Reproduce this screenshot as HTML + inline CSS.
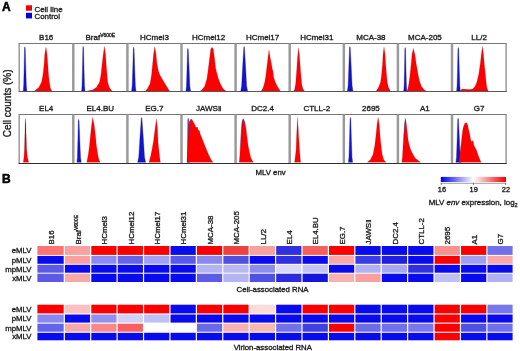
<!DOCTYPE html><html><head><meta charset="utf-8"><style>html,body{margin:0;padding:0;background:#fff;overflow:hidden}svg{display:block}text{stroke:#222;stroke-width:0.33px;font-family:"Liberation Sans", "DejaVu Sans", Arial, Helvetica, sans-serif}</style></head><body>
<svg width="520" height="351" viewBox="0 0 520 351">
<rect width="520" height="351" fill="#fff"/>
<text x="2.1" y="10.6" font-size="12" font-weight="bold" fill="#000" style="stroke:#000;stroke-width:0.5px">A</text>
<rect x="26" y="5.3" width="6" height="5.4" fill="#f00000"/>
<rect x="26" y="12.8" width="6" height="5.6" fill="#0000d8"/>
<text x="34.5" y="11.7" font-size="7.9" fill="#111">Cell line</text>
<text x="34.5" y="19.4" font-size="7.9" fill="#111">Control</text>
<text transform="translate(10.6,103.4) rotate(-90)" text-anchor="middle" font-size="10" fill="#111">Cell counts (%)</text>
<polygon points="23.2,91.3 23.68,85.96 24.13,69.05 24.55,48.3 24.9,46.8 25.25,48.3 25.8,69.05 26.34,85.96 26.9,91.3" fill="#1212d2" stroke="#1c1878" stroke-width="0.45" stroke-opacity="0.8"/>
<polygon points="81.6,91.3 82.05,85.91 82.48,68.85 82.85,47.9 83.2,46.4 83.55,47.9 84.01,68.85 84.5,85.91 85.0,91.3" fill="#1212d2" stroke="#1c1878" stroke-width="0.45" stroke-opacity="0.8"/>
<polygon points="131.6,91.3 132.19,86.01 132.75,69.25 133.35,48.7 133.7,47.2 134.05,48.7 134.73,69.25 135.36,86.01 136.0,91.3" fill="#1212d2" stroke="#1c1878" stroke-width="0.45" stroke-opacity="0.8"/>
<polygon points="185.9,91.3 186.46,86.15 187.0,69.85 187.55,49.9 187.9,48.4 188.25,49.9 189.12,69.85 189.84,86.15 190.6,91.3" fill="#1212d2" stroke="#1c1878" stroke-width="0.45" stroke-opacity="0.8"/>
<polygon points="240.7,91.3 241.65,85.91 242.57,68.85 243.75,47.9 244.1,46.4 244.45,47.9 245.67,68.85 246.62,85.91 247.6,91.3" fill="#1212d2" stroke="#1c1878" stroke-width="0.45" stroke-opacity="0.8"/>
<polygon points="347.4,91.3 348.1,85.94 348.77,68.95 349.55,48.1 349.9,46.6 350.25,48.1 351.29,68.95 352.13,85.94 353.0,91.3" fill="#1212d2" stroke="#1c1878" stroke-width="0.45" stroke-opacity="0.8"/>
<polygon points="403.7,91.3 404.12,86.06 404.52,69.45 404.85,49.1 405.2,47.6 405.55,49.1 405.96,69.45 406.42,86.06 406.9,91.3" fill="#1212d2" stroke="#1c1878" stroke-width="0.45" stroke-opacity="0.8"/>
<polygon points="456.6,91.3 457.08,86.06 457.54,69.45 457.95,49.1 458.3,47.6 458.65,49.1 459.25,69.45 459.81,86.06 460.4,91.3" fill="#1212d2" stroke="#1c1878" stroke-width="0.45" stroke-opacity="0.8"/>
<polygon points="76.9,162.3 77.4,157.15 77.89,140.85 78.35,120.9 78.7,119.4 79.05,120.9 79.83,140.85 80.5,157.15 81.2,162.3" fill="#1212d2" stroke="#1c1878" stroke-width="0.45" stroke-opacity="0.8"/>
<polygon points="137.7,162.3 138.79,156.91 139.84,139.85 141.25,118.9 141.6,117.4 141.95,118.9 143.4,139.85 144.48,156.91 145.6,162.3" fill="#1212d2" stroke="#1c1878" stroke-width="0.45" stroke-opacity="0.8"/>
<polygon points="187.0,162.3 187.34,157.01 187.66,140.25 187.85,119.7 188.2,118.2 188.55,119.7 188.83,140.25 189.21,157.01 189.6,162.3" fill="#1212d2" stroke="#1c1878" stroke-width="0.45" stroke-opacity="0.8"/>
<polygon points="348.4,162.3 348.96,156.91 349.5,139.85 350.05,118.9 350.4,117.4 350.75,118.9 351.39,139.85 351.98,156.91 352.6,162.3" fill="#1212d2" stroke="#1c1878" stroke-width="0.45" stroke-opacity="0.8"/>
<polygon points="455.9,162.3 456.52,157.01 457.11,140.25 457.75,119.7 458.1,118.2 458.45,119.7 459.45,140.25 460.26,157.01 461.1,162.3" fill="#1212d2" stroke="#1c1878" stroke-width="0.45" stroke-opacity="0.8"/>
<polygon points="34.1,91.3 35.9,90.1 38.9,87.2 41.6,82 43,74.6 44.1,64.2 44.8,53.9 46,47.2 47,53.9 47.8,64.2 48.5,74.6 49.3,82 50.4,87.9 51.9,91.3" fill="#ff0000" stroke="#7a1010" stroke-width="0.35" stroke-opacity="0.55"/>
<polygon points="86.5,91.3 88.4,90.8 92.9,89.7 96.6,87.2 99.6,82 101,74.6 102.1,64.2 103.3,53.9 104.4,46.4 105.5,53.9 106.2,64.2 107,74.6 107.7,82 109.2,87.2 112.1,91.3" fill="#ff0000" stroke="#7a1010" stroke-width="0.35" stroke-opacity="0.55"/>
<polygon points="145.2,91.3 147.4,88.7 150.1,83.5 151.6,74.6 152.6,64.2 153.6,53.9 154.8,46.7 156,53.9 157,64.2 158.5,71.6 160,75.3 162.2,79 164.4,82.7 166.7,86.4 168.9,90.1 169.8,91.3" fill="#ff0000" stroke="#7a1010" stroke-width="0.35" stroke-opacity="0.55"/>
<polygon points="200.2,91.3 201.7,90.1 204.6,86.4 206.9,79 208.3,68.7 209.8,56.8 210.8,49 212,47.2 213.2,49 214.3,56.8 215.7,68.7 218,77.6 220.2,83.5 223.1,88.7 226.1,91.3" fill="#ff0000" stroke="#7a1010" stroke-width="0.35" stroke-opacity="0.55"/>
<polygon points="261.1,91.3 263,88 264.8,82 266,74.6 267,65.7 268.1,56.8 269,50.1 270,56.8 271.5,64.2 272.3,69 273,71.6 273.7,77.6 274.3,79 275.2,82 277.4,86.4 279.3,89.4 280.4,91.3" fill="#ff0000" stroke="#7a1010" stroke-width="0.35" stroke-opacity="0.55"/>
<polygon points="293.6,91.3 294.6,89.4 295.7,83.5 296.6,71.6 297.6,56.8 298.6,47.9 299.5,56.8 300.6,71.6 301.6,83.5 302.8,88.7 304.6,91.3" fill="#ff0000" stroke="#7a1010" stroke-width="0.35" stroke-opacity="0.55"/>
<polygon points="376.1,91.3 378.6,87.2 380.6,82 381.6,74.6 382.5,64.2 383.1,53.9 384,47.2 385,53.9 385.7,64.2 386.5,74.6 387.2,82 388.4,87.2 390.5,91.3" fill="#ff0000" stroke="#7a1010" stroke-width="0.35" stroke-opacity="0.55"/>
<polygon points="406.7,91.3 407.7,89.4 408.9,83.5 410.1,74.6 411.1,64.2 412.1,53.9 413.3,48.5 414.8,53.9 416.3,64.2 417.8,73.1 419.3,80.5 421.5,86.4 424.4,90.1 426.7,91.3" fill="#ff0000" stroke="#7a1010" stroke-width="0.35" stroke-opacity="0.55"/>
<polygon points="460.2,91.3 460.9,90.1 462.4,89.1 465.4,89.3 469.8,89.6 472.8,89.0 475,86.4 476.9,82 478.7,74.6 480.2,64.2 481.4,53.9 482.4,46.4 483.4,53.9 484.3,64.2 485.4,74.6 486.1,82 486.9,87.9 488.3,91.3" fill="#ff0000" stroke="#7a1010" stroke-width="0.35" stroke-opacity="0.55"/>
<polygon points="23.3,162.3 24.0,157 24.6,149 24.9,136 25.1,126 25.4,118.4 25.8,126 26.1,136 26.5,149 27.3,157 28.7,162.3" fill="#ff0000" stroke="#7a1010" stroke-width="0.35" stroke-opacity="0.55"/>
<polygon points="86.8,162.3 88.3,154.5 89.5,145.6 90.5,135.2 91.6,124.9 92.7,117.4 94.2,124.9 95.4,135.2 96.4,145.6 97.5,153 98.7,158.9 100.1,162.3" fill="#ff0000" stroke="#7a1010" stroke-width="0.35" stroke-opacity="0.55"/>
<polygon points="149,162.3 150.7,156 152.2,148.6 153.7,139.7 155.2,127.8 156.4,118.9 157.4,127.8 158.1,142.6 159.3,154.5 160.4,162.3" fill="#ff0000" stroke="#7a1010" stroke-width="0.35" stroke-opacity="0.55"/>
<polygon points="187.5,162.3 188.2,140 188.6,130 189.2,122 190.5,119.5 191.3,118.9 192.5,120.5 193.5,122.5 194.5,124 195.5,126.5 196.5,127.5 197.3,127 198,129.5 199.5,131 200.2,134 201.5,137 203,141 205,146 207,151 209,155.5 211,159.5 213,162.3" fill="#ff0000" stroke="#7a1010" stroke-width="0.35" stroke-opacity="0.55"/>
<polygon points="239.2,162.3 239.9,154.5 240.7,142.6 241.4,130.8 242.1,121.9 243.2,118.6 244.4,121.1 245.1,123.4 245.9,127.8 247,136.7 248.1,145.6 249.6,153 251,158.2 253.3,162.3" fill="#ff0000" stroke="#7a1010" stroke-width="0.35" stroke-opacity="0.55"/>
<polygon points="294.6,162.3 296.1,150 296.6,135.2 297.6,117.4 298.6,135.2 299.5,150 300.6,162.3" fill="#ff0000" stroke="#7a1010" stroke-width="0.35" stroke-opacity="0.55"/>
<polygon points="367.4,162.3 370.4,159.7 373,154.5 374.8,145.6 376,135.2 377,124.9 378.1,117.4 379.3,124.9 380,135.2 381,145.6 382.2,154.5 383.7,159.7 385.9,162.3" fill="#ff0000" stroke="#7a1010" stroke-width="0.35" stroke-opacity="0.55"/>
<polygon points="401.9,162.3 402.5,156 403.1,145.6 403.7,135.2 404.6,124.9 405.3,118.2 406.1,121.9 407.1,130.8 408.1,139.7 409.3,145.6 410.8,150 413,154.5 415.3,158.2 418.2,160.4 420.4,162.3" fill="#ff0000" stroke="#7a1010" stroke-width="0.35" stroke-opacity="0.55"/>
<polygon points="458.9,162.3 460.4,150 461.6,139.7 462.6,130.8 463.6,126.3 464.8,123.4 466,122.6 467,123.4 467.8,125.6 468.5,129.3 469.6,133.7 470.7,139.7 471.5,141.9 472.5,140.4 473.3,141.9 474,145.6 475.2,147.8 476.4,150 477.9,154.5 479.3,158.2 481.1,162.3" fill="#ff0000" stroke="#7a1010" stroke-width="0.35" stroke-opacity="0.55"/>
<defs><linearGradient id="pg" x1="0" y1="0" x2="0" y2="1"><stop offset="0" stop-color="#3a2a9a" stop-opacity="0.95"/><stop offset="1" stop-color="#3a2a9a" stop-opacity="0.25"/></linearGradient></defs>
<defs><linearGradient id="pg2" x1="0" y1="0" x2="0" y2="1"><stop offset="0" stop-color="#2a1060" stop-opacity="1"/><stop offset="0.45" stop-color="#701048" stop-opacity="0.75"/><stop offset="1" stop-color="#ff0000" stop-opacity="0"/></linearGradient></defs>
<polygon points="23.3,162.3 24.0,157 24.6,149 24.9,136 25.1,126 25.4,118.4 25.8,126 26.1,136 26.5,149 27.3,157 28.7,162.3" fill="url(#pg2)" />
<polygon points="239.5,150 240.6,136 241.5,124 242.4,120.2 243.2,118.6 244.4,121.1 243.4,121.8 242.5,124 241.6,136 240.6,150" fill="url(#pg)" opacity="0.8"/>
<polygon points="403.3,140 404.2,125 404.8,120.5 405.3,118.2 406.1,121.9 405.5,122 405,126 404.2,140" fill="url(#pg)" opacity="0.7"/>
<line x1="18.5" y1="43.5" x2="506.8" y2="43.5" stroke="#767676" stroke-width="1.1"/>
<line x1="18.5" y1="91.5" x2="506.8" y2="91.5" stroke="#585858" stroke-width="1.1"/>
<line x1="19.2" y1="43.5" x2="19.2" y2="91.0" stroke="#9a9a9a" stroke-width="1.5"/>
<line x1="73.3" y1="43.5" x2="73.3" y2="91.0" stroke="#9a9a9a" stroke-width="2.5"/>
<line x1="127.4" y1="43.5" x2="127.4" y2="91.0" stroke="#9a9a9a" stroke-width="2.5"/>
<line x1="181.5" y1="43.5" x2="181.5" y2="91.0" stroke="#9a9a9a" stroke-width="2.5"/>
<line x1="235.6" y1="43.5" x2="235.6" y2="91.0" stroke="#9a9a9a" stroke-width="2.5"/>
<line x1="289.7" y1="43.5" x2="289.7" y2="91.0" stroke="#9a9a9a" stroke-width="2.5"/>
<line x1="343.8" y1="43.5" x2="343.8" y2="91.0" stroke="#9a9a9a" stroke-width="2.5"/>
<line x1="397.9" y1="43.5" x2="397.9" y2="91.0" stroke="#9a9a9a" stroke-width="2.5"/>
<line x1="452.0" y1="43.5" x2="452.0" y2="91.0" stroke="#9a9a9a" stroke-width="2.5"/>
<line x1="506.1" y1="43.5" x2="506.1" y2="91.0" stroke="#9a9a9a" stroke-width="1.5"/>
<text x="46.2" y="39.6" font-size="8" text-anchor="middle" fill="#111">B16</text>
<text x="100.3" y="39.6" font-size="8" text-anchor="middle" fill="#111">Braf<tspan font-size="5" dy="-2.9">V600E</tspan></text>
<text x="154.4" y="39.6" font-size="8" text-anchor="middle" fill="#111">HCmel3</text>
<text x="208.6" y="39.6" font-size="8" text-anchor="middle" fill="#111">HCmel12</text>
<text x="262.6" y="39.6" font-size="8" text-anchor="middle" fill="#111">HCmel17</text>
<text x="316.8" y="39.6" font-size="8" text-anchor="middle" fill="#111">HCmel31</text>
<text x="370.9" y="39.6" font-size="8" text-anchor="middle" fill="#111">MCA-38</text>
<text x="424.9" y="39.6" font-size="8" text-anchor="middle" fill="#111">MCA-205</text>
<text x="479.1" y="39.6" font-size="8" text-anchor="middle" fill="#111">LL/2</text>
<line x1="18.5" y1="114.5" x2="506.8" y2="114.5" stroke="#767676" stroke-width="1.1"/>
<line x1="18.5" y1="163.5" x2="506.8" y2="163.5" stroke="#303030" stroke-width="1.1"/>
<line x1="19.2" y1="114.5" x2="19.2" y2="163.0" stroke="#9a9a9a" stroke-width="1.5"/>
<line x1="73.3" y1="114.5" x2="73.3" y2="163.0" stroke="#9a9a9a" stroke-width="2.5"/>
<line x1="127.4" y1="114.5" x2="127.4" y2="163.0" stroke="#9a9a9a" stroke-width="2.5"/>
<line x1="181.5" y1="114.5" x2="181.5" y2="163.0" stroke="#9a9a9a" stroke-width="2.5"/>
<line x1="235.6" y1="114.5" x2="235.6" y2="163.0" stroke="#9a9a9a" stroke-width="2.5"/>
<line x1="289.7" y1="114.5" x2="289.7" y2="163.0" stroke="#9a9a9a" stroke-width="2.5"/>
<line x1="343.8" y1="114.5" x2="343.8" y2="163.0" stroke="#9a9a9a" stroke-width="2.5"/>
<line x1="397.9" y1="114.5" x2="397.9" y2="163.0" stroke="#9a9a9a" stroke-width="2.5"/>
<line x1="452.0" y1="114.5" x2="452.0" y2="163.0" stroke="#9a9a9a" stroke-width="2.5"/>
<line x1="506.1" y1="114.5" x2="506.1" y2="163.0" stroke="#9a9a9a" stroke-width="1.5"/>
<text x="46.2" y="110.7" font-size="8" text-anchor="middle" fill="#111">EL4</text>
<text x="100.3" y="110.7" font-size="8" text-anchor="middle" fill="#111">EL4.BU</text>
<text x="154.4" y="110.7" font-size="8" text-anchor="middle" fill="#111">EG.7</text>
<text x="208.6" y="110.7" font-size="8" text-anchor="middle" fill="#111">JAWS<tspan font-size="6.8">Ⅱ</tspan></text>
<text x="262.6" y="110.7" font-size="8" text-anchor="middle" fill="#111">DC2.4</text>
<text x="316.8" y="110.7" font-size="8" text-anchor="middle" fill="#111">CTLL-2</text>
<text x="370.9" y="110.7" font-size="8" text-anchor="middle" fill="#111">2695</text>
<text x="424.9" y="110.7" font-size="8" text-anchor="middle" fill="#111">A1</text>
<text x="479.1" y="110.7" font-size="8" text-anchor="middle" fill="#111">G7</text>
<text x="270.6" y="174.8" font-size="7.8" text-anchor="middle" fill="#111">MLV env</text>
<text x="1.9" y="183" font-size="12" font-weight="bold" fill="#000" style="stroke:#000;stroke-width:0.5px">B</text>
<defs><linearGradient id="cg" x1="0" x2="1" y1="0" y2="0"><stop offset="0" stop-color="#0000e8"/><stop offset="0.5" stop-color="#ffffff"/><stop offset="1" stop-color="#f00000"/></linearGradient></defs>
<rect x="440.8" y="176.9" width="65.2" height="5.1" fill="url(#cg)"/>
<line x1="440.8" y1="183.3" x2="506" y2="183.3" stroke="#888" stroke-width="0.8"/>
<line x1="441.2" y1="182.8" x2="441.2" y2="185" stroke="#666" stroke-width="0.8"/>
<line x1="473.4" y1="182.8" x2="473.4" y2="185" stroke="#666" stroke-width="0.8"/>
<line x1="505.6" y1="182.8" x2="505.6" y2="185" stroke="#666" stroke-width="0.8"/>
<text x="441.9" y="192.3" font-size="7.4" text-anchor="middle" fill="#111">16</text>
<text x="473.7" y="192.3" font-size="7.4" text-anchor="middle" fill="#111">19</text>
<text x="505.9" y="192.3" font-size="7.4" text-anchor="middle" fill="#111">22</text>
<text x="428.7" y="205" font-size="7.9" fill="#111">MLV <tspan font-style="italic">env</tspan> expression, log<tspan font-size="5.5" dy="2">2</tspan></text>
<text transform="translate(53.75,244.5) rotate(-90)" font-size="7.9" fill="#111">B16</text>
<text transform="translate(80.70,244.5) rotate(-90)" font-size="7.9" fill="#111">Braf<tspan font-size="5" dy="-2.9">V600E</tspan></text>
<text transform="translate(107.11,244.5) rotate(-90)" font-size="7.9" fill="#111">HCmel3</text>
<text transform="translate(133.52,244.5) rotate(-90)" font-size="7.9" fill="#111">HCmel12</text>
<text transform="translate(159.94,244.5) rotate(-90)" font-size="7.9" fill="#111">HCmel17</text>
<text transform="translate(186.34,244.5) rotate(-90)" font-size="7.9" fill="#111">HCmel31</text>
<text transform="translate(212.75,244.5) rotate(-90)" font-size="7.9" fill="#111">MCA-38</text>
<text transform="translate(239.16,244.5) rotate(-90)" font-size="7.9" fill="#111">MCA-205</text>
<text transform="translate(265.57,244.5) rotate(-90)" font-size="7.9" fill="#111">LL/2</text>
<text transform="translate(291.98,244.5) rotate(-90)" font-size="7.9" fill="#111">EL4</text>
<text transform="translate(318.40,244.5) rotate(-90)" font-size="7.9" fill="#111">EL4.BU</text>
<text transform="translate(344.81,244.5) rotate(-90)" font-size="7.9" fill="#111">EG.7</text>
<text transform="translate(371.21,244.5) rotate(-90)" font-size="7.9" fill="#111">JAWS<tspan font-size="6.8">Ⅱ</tspan></text>
<text transform="translate(397.62,244.5) rotate(-90)" font-size="7.9" fill="#111">DC2.4</text>
<text transform="translate(424.04,244.5) rotate(-90)" font-size="7.9" fill="#111">CTLL-2</text>
<text transform="translate(450.44,244.5) rotate(-90)" font-size="7.9" fill="#111">2695</text>
<text transform="translate(476.85,244.5) rotate(-90)" font-size="7.9" fill="#111">A1</text>
<text transform="translate(503.26,244.5) rotate(-90)" font-size="7.9" fill="#111">G7</text>
<rect x="37.40" y="246.00" width="26.30" height="8.90" fill="#ff7373"/>
<rect x="64.90" y="246.00" width="25.21" height="8.90" fill="#f9a0a0"/>
<rect x="91.31" y="246.00" width="25.21" height="8.90" fill="#fa0000"/>
<rect x="117.72" y="246.00" width="25.21" height="8.90" fill="#fa0000"/>
<rect x="144.13" y="246.00" width="25.21" height="8.90" fill="#fa0000"/>
<rect x="170.54" y="246.00" width="25.21" height="8.90" fill="#0a0aee"/>
<rect x="196.95" y="246.00" width="25.21" height="8.90" fill="#fa0000"/>
<rect x="223.36" y="246.00" width="25.21" height="8.90" fill="#f04040"/>
<rect x="249.77" y="246.00" width="25.21" height="8.90" fill="#f8a0a0"/>
<rect x="276.18" y="246.00" width="25.21" height="8.90" fill="#3030e0"/>
<rect x="302.59" y="246.00" width="25.21" height="8.90" fill="#f46060"/>
<rect x="329.00" y="246.00" width="25.21" height="8.90" fill="#fa0000"/>
<rect x="355.41" y="246.00" width="25.21" height="8.90" fill="#0a0aee"/>
<rect x="381.82" y="246.00" width="25.21" height="8.90" fill="#0a0aee"/>
<rect x="408.23" y="246.00" width="25.21" height="8.90" fill="#0a0aee"/>
<rect x="434.64" y="246.00" width="25.21" height="8.90" fill="#f89090"/>
<rect x="461.05" y="246.00" width="25.21" height="8.90" fill="#fa0000"/>
<rect x="487.46" y="246.00" width="25.14" height="8.90" fill="#7070ec"/>
<text x="31.5" y="253.35" font-size="7.8" text-anchor="end" fill="#111">eMLV</text>
<rect x="37.40" y="255.90" width="26.30" height="7.90" fill="#0a0aee"/>
<rect x="64.90" y="255.90" width="25.21" height="7.90" fill="#f9a0a0"/>
<rect x="91.31" y="255.90" width="25.21" height="7.90" fill="#8c8cf0"/>
<rect x="117.72" y="255.90" width="25.21" height="7.90" fill="#6464e6"/>
<rect x="144.13" y="255.90" width="25.21" height="7.90" fill="#a0a0f5"/>
<rect x="170.54" y="255.90" width="25.21" height="7.90" fill="#5a5ae6"/>
<rect x="196.95" y="255.90" width="25.21" height="7.90" fill="#8888ee"/>
<rect x="223.36" y="255.90" width="25.21" height="7.90" fill="#5050e0"/>
<rect x="249.77" y="255.90" width="25.21" height="7.90" fill="#0a0aee"/>
<rect x="276.18" y="255.90" width="25.21" height="7.90" fill="#3030e0"/>
<rect x="302.59" y="255.90" width="25.21" height="7.90" fill="#0a0aee"/>
<rect x="329.00" y="255.90" width="25.21" height="7.90" fill="#f8a8a8"/>
<rect x="355.41" y="255.90" width="25.21" height="7.90" fill="#3c3ce4"/>
<rect x="381.82" y="255.90" width="25.21" height="7.90" fill="#2020dc"/>
<rect x="408.23" y="255.90" width="25.21" height="7.90" fill="#0a0aee"/>
<rect x="434.64" y="255.90" width="25.21" height="7.90" fill="#fa0000"/>
<rect x="461.05" y="255.90" width="25.21" height="7.90" fill="#a0a0f0"/>
<rect x="487.46" y="255.90" width="25.14" height="7.90" fill="#f8a8a8"/>
<text x="31.5" y="262.75" font-size="7.8" text-anchor="end" fill="#111">pMLV</text>
<rect x="37.40" y="264.80" width="26.30" height="7.90" fill="#5a5ae6"/>
<rect x="64.90" y="264.80" width="25.21" height="7.90" fill="#0a0aee"/>
<rect x="91.31" y="264.80" width="25.21" height="7.90" fill="#0a0aee"/>
<rect x="117.72" y="264.80" width="25.21" height="7.90" fill="#0a0aee"/>
<rect x="144.13" y="264.80" width="25.21" height="7.90" fill="#0a0aee"/>
<rect x="170.54" y="264.80" width="25.21" height="7.90" fill="#0a0aee"/>
<rect x="196.95" y="264.80" width="25.21" height="7.90" fill="#b4b4f2"/>
<rect x="223.36" y="264.80" width="25.21" height="7.90" fill="#b8b8f2"/>
<rect x="249.77" y="264.80" width="25.21" height="7.90" fill="#8c8cec"/>
<rect x="276.18" y="264.80" width="25.21" height="7.90" fill="#dadaf8"/>
<rect x="302.59" y="264.80" width="25.21" height="7.90" fill="#c4c4f4"/>
<rect x="329.00" y="264.80" width="25.21" height="7.90" fill="#0a0aee"/>
<rect x="355.41" y="264.80" width="25.21" height="7.90" fill="#b0b0f4"/>
<rect x="381.82" y="264.80" width="25.21" height="7.90" fill="#a8a8f2"/>
<rect x="408.23" y="264.80" width="25.21" height="7.90" fill="#3030e0"/>
<rect x="434.64" y="264.80" width="25.21" height="7.90" fill="#0a0aee"/>
<rect x="461.05" y="264.80" width="25.21" height="7.90" fill="#0a0aee"/>
<rect x="487.46" y="264.80" width="25.14" height="7.90" fill="#0a0aee"/>
<text x="31.5" y="271.65" font-size="7.8" text-anchor="end" fill="#111">mpMLV</text>
<rect x="37.40" y="273.70" width="26.30" height="8.30" fill="#5a5ae6"/>
<rect x="64.90" y="273.70" width="25.21" height="8.30" fill="#f9a8a8"/>
<rect x="91.31" y="273.70" width="25.21" height="8.30" fill="#0a0aee"/>
<rect x="117.72" y="273.70" width="25.21" height="8.30" fill="#0a0aee"/>
<rect x="144.13" y="273.70" width="25.21" height="8.30" fill="#0a0aee"/>
<rect x="170.54" y="273.70" width="25.21" height="8.30" fill="#0a0aee"/>
<rect x="196.95" y="273.70" width="25.21" height="8.30" fill="#5c5ce8"/>
<rect x="223.36" y="273.70" width="25.21" height="8.30" fill="#b4b4f2"/>
<rect x="249.77" y="273.70" width="25.21" height="8.30" fill="#5050e4"/>
<rect x="276.18" y="273.70" width="25.21" height="8.30" fill="#2c2cdc"/>
<rect x="302.59" y="273.70" width="25.21" height="8.30" fill="#1414dc"/>
<rect x="329.00" y="273.70" width="25.21" height="8.30" fill="#f8b0b0"/>
<rect x="355.41" y="273.70" width="25.21" height="8.30" fill="#f8a0a0"/>
<rect x="381.82" y="273.70" width="25.21" height="8.30" fill="#0a0aee"/>
<rect x="408.23" y="273.70" width="25.21" height="8.30" fill="#0a0aee"/>
<rect x="434.64" y="273.70" width="25.21" height="8.30" fill="#c0c0f4"/>
<rect x="461.05" y="273.70" width="25.21" height="8.30" fill="#0a0aee"/>
<rect x="487.46" y="273.70" width="25.14" height="8.30" fill="#b0b0f4"/>
<text x="31.5" y="280.75" font-size="7.8" text-anchor="end" fill="#111">xMLV</text>
<rect x="37.40" y="304.70" width="26.30" height="8.70" fill="#fa0000"/>
<rect x="64.90" y="304.70" width="25.21" height="8.70" fill="#fcc0c0"/>
<rect x="91.31" y="304.70" width="25.21" height="8.70" fill="#fa0000"/>
<rect x="117.72" y="304.70" width="25.21" height="8.70" fill="#fa0000"/>
<rect x="144.13" y="304.70" width="25.21" height="8.70" fill="#fa0000"/>
<rect x="170.54" y="304.70" width="25.21" height="8.70" fill="#0a0aee"/>
<rect x="196.95" y="304.70" width="25.21" height="8.70" fill="#fa0000"/>
<rect x="223.36" y="304.70" width="25.21" height="8.70" fill="#fa0000"/>
<rect x="249.77" y="304.70" width="25.21" height="8.70" fill="#fcdcd8"/>
<rect x="276.18" y="304.70" width="25.21" height="8.70" fill="#0a0aee"/>
<rect x="302.59" y="304.70" width="25.21" height="8.70" fill="#fa0000"/>
<rect x="329.00" y="304.70" width="25.21" height="8.70" fill="#fa0000"/>
<rect x="355.41" y="304.70" width="25.21" height="8.70" fill="#0a0aee"/>
<rect x="381.82" y="304.70" width="25.21" height="8.70" fill="#0a0aee"/>
<rect x="408.23" y="304.70" width="25.21" height="8.70" fill="#0a0aee"/>
<rect x="434.64" y="304.70" width="25.21" height="8.70" fill="#fa0000"/>
<rect x="461.05" y="304.70" width="25.21" height="8.70" fill="#fa0000"/>
<rect x="487.46" y="304.70" width="25.14" height="8.70" fill="#7878ec"/>
<text x="31.5" y="311.95" font-size="7.8" text-anchor="end" fill="#111">eMLV</text>
<rect x="37.40" y="314.50" width="26.30" height="8.10" fill="#8888ee"/>
<rect x="64.90" y="314.50" width="25.21" height="8.10" fill="#0a0aee"/>
<rect x="91.31" y="314.50" width="25.21" height="8.10" fill="#9090f0"/>
<rect x="117.72" y="314.50" width="25.21" height="8.10" fill="#d0d0f8"/>
<rect x="144.13" y="314.50" width="25.21" height="8.10" fill="#c0c0f4"/>
<rect x="170.54" y="314.50" width="25.21" height="8.10" fill="#0a0aee"/>
<rect x="196.95" y="314.50" width="25.21" height="8.10" fill="#0a0aee"/>
<rect x="223.36" y="314.50" width="25.21" height="8.10" fill="#0a0aee"/>
<rect x="249.77" y="314.50" width="25.21" height="8.10" fill="#0a0aee"/>
<rect x="276.18" y="314.50" width="25.21" height="8.10" fill="#0a0aee"/>
<rect x="302.59" y="314.50" width="25.21" height="8.10" fill="#0a0aee"/>
<rect x="329.00" y="314.50" width="25.21" height="8.10" fill="#0a0aee"/>
<rect x="355.41" y="314.50" width="25.21" height="8.10" fill="#0a0aee"/>
<rect x="381.82" y="314.50" width="25.21" height="8.10" fill="#0a0aee"/>
<rect x="408.23" y="314.50" width="25.21" height="8.10" fill="#0a0aee"/>
<rect x="434.64" y="314.50" width="25.21" height="8.10" fill="#fa0000"/>
<rect x="461.05" y="314.50" width="25.21" height="8.10" fill="#0a0aee"/>
<rect x="487.46" y="314.50" width="25.14" height="8.10" fill="#0a0aee"/>
<text x="31.5" y="321.45" font-size="7.8" text-anchor="end" fill="#111">pMLV</text>
<rect x="37.40" y="323.70" width="26.30" height="8.00" fill="#6464e8"/>
<rect x="64.90" y="323.70" width="25.21" height="8.00" fill="#f8a8a8"/>
<rect x="91.31" y="323.70" width="25.21" height="8.00" fill="#f88888"/>
<rect x="117.72" y="323.70" width="25.21" height="8.00" fill="#f86060"/>
<rect x="144.13" y="323.70" width="25.21" height="8.00" fill="#ffffff"/>
<rect x="170.54" y="323.70" width="25.21" height="8.00" fill="#ffffff"/>
<rect x="196.95" y="323.70" width="25.21" height="8.00" fill="#6868e8"/>
<rect x="223.36" y="323.70" width="25.21" height="8.00" fill="#f8b0b0"/>
<rect x="249.77" y="323.70" width="25.21" height="8.00" fill="#f8b8b0"/>
<rect x="276.18" y="323.70" width="25.21" height="8.00" fill="#7070ec"/>
<rect x="302.59" y="323.70" width="25.21" height="8.00" fill="#4040e0"/>
<rect x="329.00" y="323.70" width="25.21" height="8.00" fill="#fa0000"/>
<rect x="355.41" y="323.70" width="25.21" height="8.00" fill="#6c6ce8"/>
<rect x="381.82" y="323.70" width="25.21" height="8.00" fill="#7070ea"/>
<rect x="408.23" y="323.70" width="25.21" height="8.00" fill="#7878ec"/>
<rect x="434.64" y="323.70" width="25.21" height="8.00" fill="#fa0000"/>
<rect x="461.05" y="323.70" width="25.21" height="8.00" fill="#5050e0"/>
<rect x="487.46" y="323.70" width="25.14" height="8.00" fill="#7070ea"/>
<text x="31.5" y="330.60" font-size="7.8" text-anchor="end" fill="#111">mpMLV</text>
<rect x="37.40" y="332.80" width="26.30" height="7.50" fill="#0a0aee"/>
<rect x="64.90" y="332.80" width="25.21" height="7.50" fill="#0a0aee"/>
<rect x="91.31" y="332.80" width="25.21" height="7.50" fill="#0a0aee"/>
<rect x="117.72" y="332.80" width="25.21" height="7.50" fill="#0a0aee"/>
<rect x="144.13" y="332.80" width="25.21" height="7.50" fill="#0a0aee"/>
<rect x="170.54" y="332.80" width="25.21" height="7.50" fill="#0a0aee"/>
<rect x="196.95" y="332.80" width="25.21" height="7.50" fill="#0a0aee"/>
<rect x="223.36" y="332.80" width="25.21" height="7.50" fill="#0a0aee"/>
<rect x="249.77" y="332.80" width="25.21" height="7.50" fill="#0a0aee"/>
<rect x="276.18" y="332.80" width="25.21" height="7.50" fill="#0a0aee"/>
<rect x="302.59" y="332.80" width="25.21" height="7.50" fill="#0a0aee"/>
<rect x="329.00" y="332.80" width="25.21" height="7.50" fill="#0a0aee"/>
<rect x="355.41" y="332.80" width="25.21" height="7.50" fill="#0a0aee"/>
<rect x="381.82" y="332.80" width="25.21" height="7.50" fill="#0a0aee"/>
<rect x="408.23" y="332.80" width="25.21" height="7.50" fill="#0a0aee"/>
<rect x="434.64" y="332.80" width="25.21" height="7.50" fill="#fa0000"/>
<rect x="461.05" y="332.80" width="25.21" height="7.50" fill="#0a0aee"/>
<rect x="487.46" y="332.80" width="25.14" height="7.50" fill="#0a0aee"/>
<text x="31.5" y="339.45" font-size="7.8" text-anchor="end" fill="#111">xMLV</text>
<text x="272.5" y="291.7" font-size="7.8" text-anchor="middle" fill="#111">Cell-associated RNA</text>
<text x="272.8" y="350.3" font-size="7.8" text-anchor="middle" fill="#111">Virion-associated RNA</text>
</svg></body></html>
